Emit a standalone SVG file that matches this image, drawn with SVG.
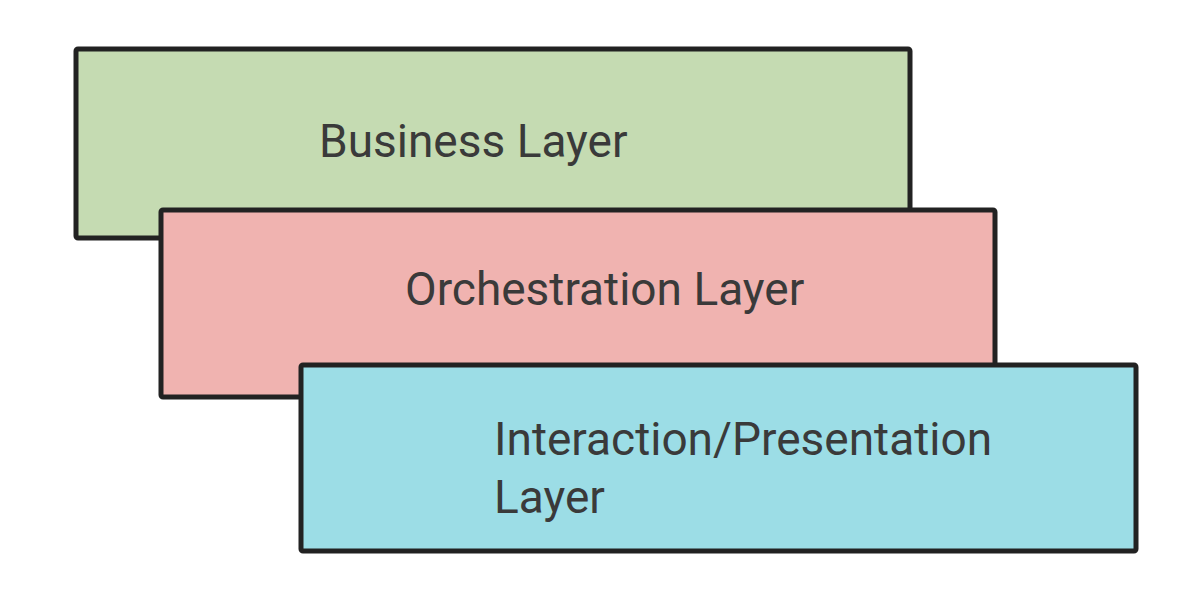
<svg xmlns="http://www.w3.org/2000/svg" width="1200" height="609" viewBox="0 0 1200 609">
<style>
.box{stroke:#222;stroke-width:5;stroke-linejoin:round}
.t{font-family:Roboto,"Liberation Sans",sans-serif;font-size:46px;fill:#3a3a3a}
</style>
<rect width="1200" height="609" fill="#fff"/>
<g id="business"><rect class="box" x="76" y="49" width="834" height="189" rx="2" fill="#c5dbb2"/><text class="t" x="319" y="157">Business Layer</text></g>
<g id="orchestration"><rect class="box" x="161" y="210" width="834" height="187" rx="2" fill="#f0b3b0"/><text class="t" x="405" y="305">Orchestration Layer</text></g>
<g id="interaction"><rect class="box" x="301" y="365" width="835" height="186" rx="2" fill="#9cdde6"/><text class="t" x="494" y="455">Interaction/Presentation</text><text class="t" x="494" y="513">Layer</text></g>
<g id="connectors"/>
</svg>
